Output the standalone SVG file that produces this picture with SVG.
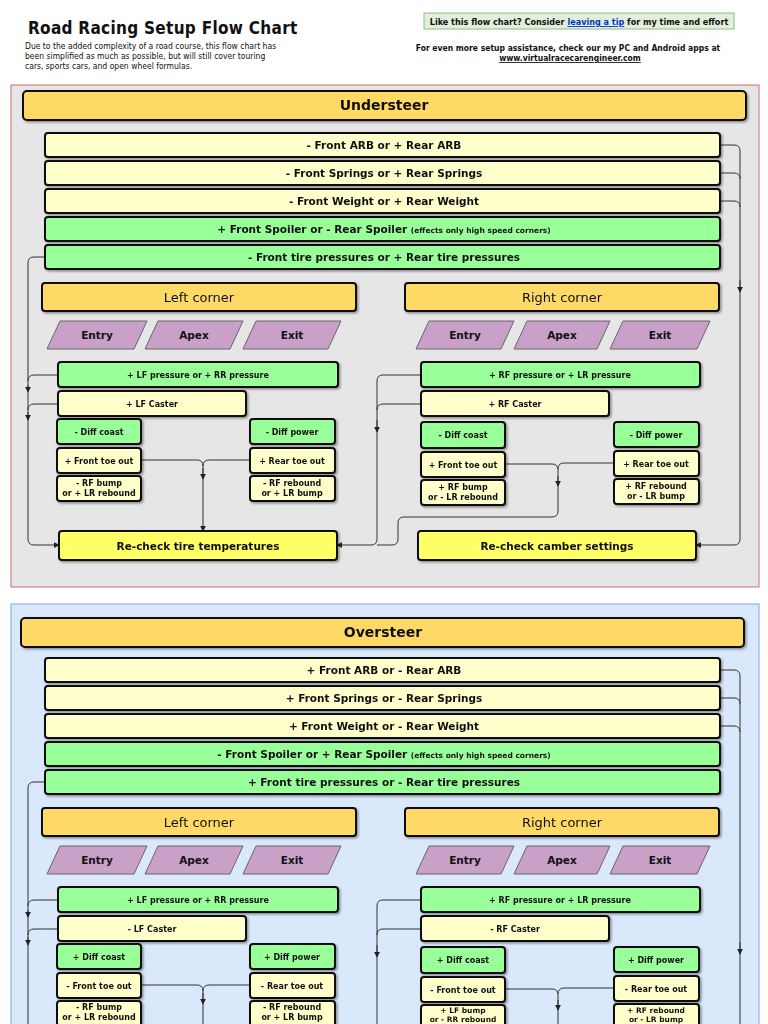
<svg xmlns="http://www.w3.org/2000/svg" width="768" height="1024" viewBox="0 0 768 1024">
<style>
.t{font-family:"DejaVu Sans",Verdana,sans-serif;font-weight:bold;fill:#111;text-anchor:middle}
.n{font-weight:normal}
.h{font-family:"DejaVu Sans Condensed","DejaVu Sans",sans-serif;fill:#111}
.bar{fill:#ffd966;stroke:#111;stroke-width:2}
.ly{fill:#ffffcc;stroke:#111;stroke-width:2}
.gr{fill:#99ff99;stroke:#111;stroke-width:2}
.ye{fill:#ffff66;stroke:#111;stroke-width:2}
.pg{fill:#c9a0c8;stroke:#666;stroke-width:1}
.c{fill:none;stroke:#333;stroke-width:1}
.s{filter:url(#sh)}
</style>
<defs>
<filter id="sh" x="-5%" y="-20%" width="110%" height="150%"><feDropShadow dx="1.5" dy="1.5" stdDeviation="1" flood-color="#000" flood-opacity="0.4"/></filter>
<marker id="a" viewBox="0 0 8 8" refX="7" refY="4" markerWidth="6" markerHeight="6" orient="auto"><path d="M0,0L8,4L0,8z" fill="#222"/></marker>
</defs>
<rect width="768" height="1024" fill="#fff"/>
<g id="header">
<text class="h" x="28" y="34" font-size="17" font-weight="bold" letter-spacing="0.3">Road Racing Setup Flow Chart</text>
<text class="h" x="25" y="49" font-size="8.5">Due to the added complexity of a road course, this flow chart has</text>
<text class="h" x="25" y="59" font-size="8.5">been simplified as much as possible, but will still cover touring</text>
<text class="h" x="25" y="69" font-size="8.5">cars, sports cars, and open wheel formulas.</text>
<rect x="424" y="13" width="310" height="16" fill="#e2efda" stroke="#8fbc8f"/>
<text class="h" x="579" y="25" font-size="9" font-weight="bold" text-anchor="middle">Like this flow chart? Consider <tspan fill="#0033cc" text-decoration="underline">leaving a tip</tspan> for my time and effort</text>
<text class="h" x="568" y="51" font-size="8.5" font-weight="bold" text-anchor="middle">For even more setup assistance, check our my PC and Android apps at</text>
<text class="h" x="570" y="61" font-size="8.5" font-weight="bold" text-anchor="middle" fill="#0033cc" text-decoration="underline">www.virtualracecarengineer.com</text>
</g>

<g id="panel1">
<rect x="11" y="85" width="748" height="502" fill="#e6e6e6" stroke="#c9706b"/>
</g>
<g id="panel2">
<rect x="11" y="604" width="748" height="430" fill="#dae8fc" stroke="#7ea6e0"/>
</g>

<g id="connectors">
<path class="c" d="M720,145H734Q740,145 740,151V539Q740,545 734,545H696" marker-end="url(#a)"/>
<path class="c" d="M720,173H734Q740,173 740,179"/>
<path class="c" d="M720,201H734Q740,201 740,207"/>
<path class="c" d="M740,280V292" marker-end="url(#a)"/>
<path class="c" d="M45,257H34Q28,257 28,263V539Q28,545 34,545H59" marker-end="url(#a)"/>
<path class="c" d="M58,375H34Q28,375 28,381"/>
<path class="c" d="M28,385V392" marker-end="url(#a)"/>
<path class="c" d="M58,404H34Q28,404 28,410"/>
<path class="c" d="M28,412V420" marker-end="url(#a)"/>
<path class="c" d="M141,460H197Q203,460 203,466V531" marker-end="url(#a)"/>
<path class="c" d="M250,460H209Q203,460 203,466"/>
<path class="c" d="M203,468V479" marker-end="url(#a)"/>
<path class="c" d="M421,375H383Q377,375 377,381V539Q377,545 371,545H337" marker-end="url(#a)"/>
<path class="c" d="M421,404H383Q377,404 377,410"/>
<path class="c" d="M377,420V432" marker-end="url(#a)"/>
<path class="c" d="M505,464H552Q558,464 558,470V511Q558,517 552,517H404Q398,517 398,523V539Q398,545 392,545H377"/>
<path class="c" d="M614,463H564Q558,463 558,469"/>
<path class="c" d="M558,476V486" marker-end="url(#a)"/>
<path class="c" d="M720,670H734Q740,670 740,676V1030"/>
<path class="c" d="M720,698H734Q740,698 740,704"/>
<path class="c" d="M720,726H734Q740,726 740,732"/>
<path class="c" d="M740,942V954" marker-end="url(#a)"/>
<path class="c" d="M45,782H34Q28,782 28,788V1030"/>
<path class="c" d="M58,900H34Q28,900 28,906"/>
<path class="c" d="M28,910V917" marker-end="url(#a)"/>
<path class="c" d="M58,929H34Q28,929 28,935"/>
<path class="c" d="M28,937V945" marker-end="url(#a)"/>
<path class="c" d="M141,985H197Q203,985 203,991V1030"/>
<path class="c" d="M250,985H209Q203,985 203,991"/>
<path class="c" d="M203,993V1004" marker-end="url(#a)"/>
<path class="c" d="M421,900H383Q377,900 377,906V1030"/>
<path class="c" d="M421,929H383Q377,929 377,935"/>
<path class="c" d="M377,945V957" marker-end="url(#a)"/>
<path class="c" d="M505,989H552Q558,989 558,995V1030"/>
<path class="c" d="M614,988H564Q558,988 558,994"/>
<path class="c" d="M558,1000V1010" marker-end="url(#a)"/>
</g>

<g id="understeer" class="s"><rect class="bar" x="23" y="91" width="723" height="29" rx="4"/><text class="t" x="384" y="110" font-size="14">Understeer</text></g>
<g id="u1" class="s"><rect class="ly" x="45" y="133" width="675" height="24" rx="3"/><text class="t" x="384" y="149" font-size="10.5">- Front ARB or + Rear ARB</text></g>
<g id="u2" class="s"><rect class="ly" x="45" y="161" width="675" height="24" rx="3"/><text class="t" x="384" y="177" font-size="10.5">- Front Springs or + Rear Springs</text></g>
<g id="u3" class="s"><rect class="ly" x="45" y="189" width="675" height="24" rx="3"/><text class="t" x="384" y="205" font-size="10.5">- Front Weight or + Rear Weight</text></g>
<g id="u4" class="s"><rect class="gr" x="45" y="217" width="675" height="24" rx="3"/><text class="t" x="384" y="233" font-size="10.5">+ Front Spoiler or - Rear Spoiler <tspan font-size="7.5">(effects only high speed corners)</tspan></text></g>
<g id="u5" class="s"><rect class="gr" x="45" y="245" width="675" height="24" rx="3"/><text class="t" x="384" y="261" font-size="10.5">- Front tire pressures or + Rear tire pressures</text></g>
<g id="uL" class="s"><rect class="bar" x="42" y="283" width="314" height="28" rx="3"/><text class="t n" x="199" y="302" font-size="13">Left corner</text></g>
<g id="uR" class="s"><rect class="bar" x="405" y="283" width="314" height="28" rx="3"/><text class="t n" x="562" y="302" font-size="13">Right corner</text></g>
<g id="uLp">
<polygon class="pg" points="60,321 147,321 134,349 47,349"/><text class="t" x="97" y="339" font-size="10.5">Entry</text>
<polygon class="pg" points="158,321 243,321 230,349 145,349"/><text class="t" x="194" y="339" font-size="10.5">Apex</text>
<polygon class="pg" points="256,321 341,321 328,349 243,349"/><text class="t" x="292" y="339" font-size="10.5">Exit</text>
</g>
<g id="uRp">
<polygon class="pg" points="429,321 514,321 501,349 416,349"/><text class="t" x="465" y="339" font-size="10.5">Entry</text>
<polygon class="pg" points="527,321 610,321 597,349 514,349"/><text class="t" x="562" y="339" font-size="10.5">Apex</text>
<polygon class="pg" points="623,321 710,321 697,349 610,349"/><text class="t" x="660" y="339" font-size="10.5">Exit</text>
</g>
<g id="uLpress" class="s"><rect class="gr" x="58" y="362" width="280" height="25" rx="3"/><text class="t" x="198" y="378" font-size="8">+ LF pressure or + RR pressure</text></g>
<g id="uLcast" class="s"><rect class="ly" x="58" y="391" width="188" height="25" rx="3"/><text class="t" x="152" y="407" font-size="8">+ LF Caster</text></g>
<g id="uLcoast" class="s"><rect class="gr" x="57" y="419" width="84" height="25" rx="3"/><text class="t" x="99" y="435" font-size="8">- Diff coast</text></g>
<g id="uLftoe" class="s"><rect class="ly" x="57" y="448" width="84" height="25" rx="3"/><text class="t" x="99" y="464" font-size="8">+ Front toe out</text></g>
<g id="uLbump" class="s"><rect class="ly" x="57" y="476" width="84" height="25" rx="3"/><text class="t" x="99" y="486" font-size="8">- RF bump</text><text class="t" x="99" y="496" font-size="8">or + LR rebound</text></g>
<g id="uLpow" class="s"><rect class="gr" x="250" y="419" width="85" height="25" rx="3"/><text class="t" x="292" y="435" font-size="8">- Diff power</text></g>
<g id="uLrtoe" class="s"><rect class="ly" x="250" y="448" width="85" height="25" rx="3"/><text class="t" x="292" y="464" font-size="8">+ Rear toe out</text></g>
<g id="uLreb" class="s"><rect class="ly" x="250" y="476" width="85" height="25" rx="3"/><text class="t" x="292" y="486" font-size="8">- RF rebound</text><text class="t" x="292" y="496" font-size="8">or + LR bump</text></g>
<g id="uTemp" class="s"><rect class="ye" x="59" y="531" width="278" height="29" rx="3"/><text class="t" x="198" y="550" font-size="10.5">Re-check tire temperatures</text></g>
<g id="uRpress" class="s"><rect class="gr" x="421" y="362" width="279" height="25" rx="3"/><text class="t" x="560" y="378" font-size="8">+ RF pressure or + LR pressure</text></g>
<g id="uRcast" class="s"><rect class="ly" x="421" y="391" width="188" height="25" rx="3"/><text class="t" x="515" y="407" font-size="8">+ RF Caster</text></g>
<g id="uRcoast" class="s"><rect class="gr" x="421" y="422" width="84" height="26" rx="3"/><text class="t" x="463" y="438" font-size="8">- Diff coast</text></g>
<g id="uRftoe" class="s"><rect class="ly" x="421" y="452" width="84" height="25" rx="3"/><text class="t" x="463" y="468" font-size="8">+ Front toe out</text></g>
<g id="uRbump" class="s"><rect class="ly" x="421" y="480" width="84" height="25" rx="3"/><text class="t" x="463" y="490" font-size="8">+ RF bump</text><text class="t" x="463" y="500" font-size="8">or - LR rebound</text></g>
<g id="uRpow" class="s"><rect class="gr" x="614" y="422" width="85" height="25" rx="3"/><text class="t" x="656" y="438" font-size="8">- Diff power</text></g>
<g id="uRrtoe" class="s"><rect class="ly" x="614" y="451" width="85" height="25" rx="3"/><text class="t" x="656" y="467" font-size="8">+ Rear toe out</text></g>
<g id="uRreb" class="s"><rect class="ly" x="614" y="479" width="85" height="25" rx="3"/><text class="t" x="656" y="489" font-size="8">+ RF rebound</text><text class="t" x="656" y="499" font-size="8">or - LR bump</text></g>
<g id="uCamber" class="s"><rect class="ye" x="418" y="531" width="278" height="29" rx="3"/><text class="t" x="557" y="550" font-size="10.5">Re-check camber settings</text></g>

<g id="oversteer" class="s"><rect class="bar" x="21" y="618" width="723" height="29" rx="4"/><text class="t" x="383" y="637" font-size="14">Oversteer</text></g>
<g id="o1" class="s"><rect class="ly" x="45" y="658" width="675" height="24" rx="3"/><text class="t" x="384" y="674" font-size="10.5">+ Front ARB or - Rear ARB</text></g>
<g id="o2" class="s"><rect class="ly" x="45" y="686" width="675" height="24" rx="3"/><text class="t" x="384" y="702" font-size="10.5">+ Front Springs or - Rear Springs</text></g>
<g id="o3" class="s"><rect class="ly" x="45" y="714" width="675" height="24" rx="3"/><text class="t" x="384" y="730" font-size="10.5">+ Front Weight or - Rear Weight</text></g>
<g id="o4" class="s"><rect class="gr" x="45" y="742" width="675" height="24" rx="3"/><text class="t" x="384" y="758" font-size="10.5">- Front Spoiler or + Rear Spoiler <tspan font-size="7.5">(effects only high speed corners)</tspan></text></g>
<g id="o5" class="s"><rect class="gr" x="45" y="770" width="675" height="24" rx="3"/><text class="t" x="384" y="786" font-size="10.5">+ Front tire pressures or - Rear tire pressures</text></g>
<g id="oL" class="s"><rect class="bar" x="42" y="808" width="314" height="28" rx="3"/><text class="t n" x="199" y="827" font-size="13">Left corner</text></g>
<g id="oR" class="s"><rect class="bar" x="405" y="808" width="314" height="28" rx="3"/><text class="t n" x="562" y="827" font-size="13">Right corner</text></g>
<g id="oLp">
<polygon class="pg" points="60,846 147,846 134,874 47,874"/><text class="t" x="97" y="864" font-size="10.5">Entry</text>
<polygon class="pg" points="158,846 243,846 230,874 145,874"/><text class="t" x="194" y="864" font-size="10.5">Apex</text>
<polygon class="pg" points="256,846 341,846 328,874 243,874"/><text class="t" x="292" y="864" font-size="10.5">Exit</text>
</g>
<g id="oRp">
<polygon class="pg" points="429,846 514,846 501,874 416,874"/><text class="t" x="465" y="864" font-size="10.5">Entry</text>
<polygon class="pg" points="527,846 610,846 597,874 514,874"/><text class="t" x="562" y="864" font-size="10.5">Apex</text>
<polygon class="pg" points="623,846 710,846 697,874 610,874"/><text class="t" x="660" y="864" font-size="10.5">Exit</text>
</g>
<g id="oLpress" class="s"><rect class="gr" x="58" y="887" width="280" height="25" rx="3"/><text class="t" x="198" y="903" font-size="8">+ LF pressure or + RR pressure</text></g>
<g id="oLcast" class="s"><rect class="ly" x="58" y="916" width="188" height="25" rx="3"/><text class="t" x="152" y="932" font-size="8">- LF Caster</text></g>
<g id="oLcoast" class="s"><rect class="gr" x="57" y="944" width="84" height="25" rx="3"/><text class="t" x="99" y="960" font-size="8">+ Diff coast</text></g>
<g id="oLftoe" class="s"><rect class="ly" x="57" y="973" width="84" height="25" rx="3"/><text class="t" x="99" y="989" font-size="8">- Front toe out</text></g>
<g id="oLbump" class="s"><rect class="ly" x="57" y="1001" width="84" height="25" rx="3"/><text class="t" x="99" y="1010" font-size="8">- RF bump</text><text class="t" x="99" y="1020" font-size="8">or + LR rebound</text></g>
<g id="oLpow" class="s"><rect class="gr" x="250" y="944" width="85" height="25" rx="3"/><text class="t" x="292" y="960" font-size="8">+ Diff power</text></g>
<g id="oLrtoe" class="s"><rect class="ly" x="250" y="973" width="85" height="25" rx="3"/><text class="t" x="292" y="989" font-size="8">- Rear toe out</text></g>
<g id="oLreb" class="s"><rect class="ly" x="250" y="1001" width="85" height="25" rx="3"/><text class="t" x="292" y="1010" font-size="8">- RF rebound</text><text class="t" x="292" y="1020" font-size="8">or + LR bump</text></g>
<g id="oRpress" class="s"><rect class="gr" x="421" y="887" width="279" height="25" rx="3"/><text class="t" x="560" y="903" font-size="8">+ RF pressure or + LR pressure</text></g>
<g id="oRcast" class="s"><rect class="ly" x="421" y="916" width="188" height="25" rx="3"/><text class="t" x="515" y="932" font-size="8">- RF Caster</text></g>
<g id="oRcoast" class="s"><rect class="gr" x="421" y="947" width="84" height="26" rx="3"/><text class="t" x="463" y="963" font-size="8">+ Diff coast</text></g>
<g id="oRftoe" class="s"><rect class="ly" x="421" y="977" width="84" height="25" rx="3"/><text class="t" x="463" y="993" font-size="8">- Front toe out</text></g>
<g id="oRbump" class="s"><rect class="ly" x="421" y="1005" width="84" height="25" rx="3"/><text class="t" x="463" y="1013" font-size="7.5">+ LF bump</text><text class="t" x="463" y="1022" font-size="7.5">or - RR rebound</text></g>
<g id="oRpow" class="s"><rect class="gr" x="614" y="947" width="85" height="25" rx="3"/><text class="t" x="656" y="963" font-size="8">+ Diff power</text></g>
<g id="oRrtoe" class="s"><rect class="ly" x="614" y="976" width="85" height="25" rx="3"/><text class="t" x="656" y="992" font-size="8">- Rear toe out</text></g>
<g id="oRreb" class="s"><rect class="ly" x="614" y="1004" width="85" height="25" rx="3"/><text class="t" x="656" y="1013" font-size="7.5">+ RF rebound</text><text class="t" x="656" y="1022" font-size="7.5">or - LR bump</text></g>
</svg>
